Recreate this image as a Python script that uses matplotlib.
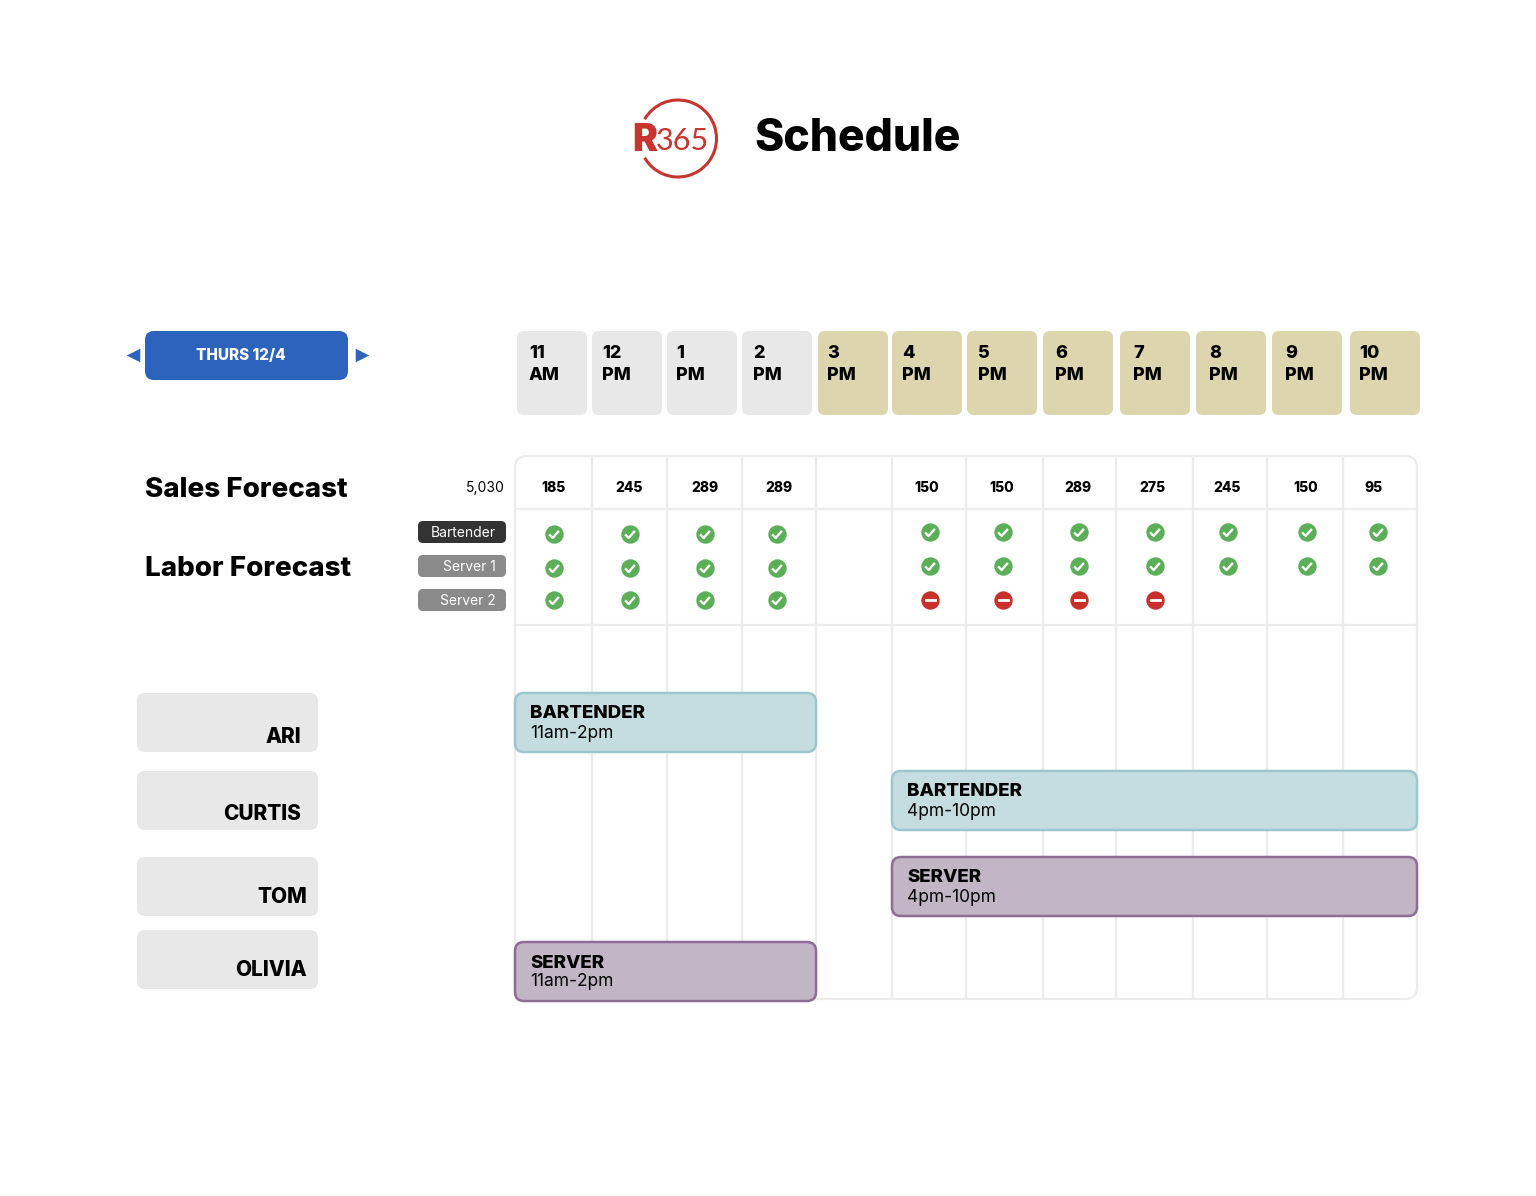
# Schedule chart

import matplotlib
matplotlib.use("Agg")
import matplotlib.pyplot as plt
from matplotlib.patches import FancyBboxPatch, Arc
from matplotlib.path import Path

# Data

hours = ["11\nAM", "12\nPM", "1\nPM", "2\nPM", "3\nPM", "4\nPM",
         "5\nPM", "6\nPM", "7\nPM", "8\nPM", "9\nPM", "10\nPM"]
peakHours = [False, False, False, False, True, True,
             True, True, True, True, True, True]
sales = ["185", "245", "289", "289", "", "150", "150", "289", "275", "245", "150", "95"]
salesTotal = "5,030"
roles = ["Bartender", "Server 1", "Server 2"]

# 1 = covered, -1 = not needed, 0 = nothing shown
bartender = [1, 1, 1, 1, 0, 1, 1, 1, 1, 1, 1, 1]
server1 = [1, 1, 1, 1, 0, 1, 1, 1, 1, 1, 1, 1]
server2 = [1, 1, 1, 1, 0, -1, -1, -1, -1, 0, 0, 0]
coverage = [bartender, server1, server2]

names = ["ARI", "CURTIS", "TOM", "OLIVIA"]
shiftRoles = ["BARTENDER", "BARTENDER", "SERVER", "SERVER"]
shiftTimes = ["11am-2pm", "4pm-10pm", "4pm-10pm", "11am-2pm"]
shiftStart = [0, 5, 5, 0]
shiftEnd = [4, 12, 12, 4]

# Layout in image pixels

gridLines = [515, 592, 667, 742, 816, 892, 966, 1043, 1116, 1193, 1267, 1343, 1417]
headerLeft = [517, 592, 667, 742, 818, 892, 967, 1043, 1120, 1196, 1272, 1350]
headerTextX = [529, 602, 676, 753, 827, 902, 978, 1055, 1133, 1209, 1285, 1359]
salesX = [554, 629, 705, 779, 853, 927, 1002, 1078, 1152, 1227, 1306, 1374]
iconX = [554, 630, 705, 777, 853, 930, 1003, 1079, 1155, 1228, 1307, 1378]
iconY = [[534, 532], [568, 566], [600, 600]]
roleY = [532, 566, 600]
rowTop = [693, 771, 857, 942]
nameTop = [693, 771, 857, 930]
nameY = [736, 813, 896, 969]
nameRight = [301, 301, 307, 307]

fontName = ["Inter", "DejaVu Sans"]
gridColor = "#ececec"
heavy = 800


def box(ax, x, y, w, h, r, face, edge="none", lw=0, z=2):
    ax.add_patch(FancyBboxPatch((x, y), w, h, boxstyle=f"round,pad=0,rounding_size={r}",
                                facecolor=face, edgecolor=edge, linewidth=lw, zorder=z))


fig = plt.figure(figsize=[15.36, 11.96], dpi=100)
ax = fig.add_axes([0, 0, 1, 1])
ax.set_xlim(0, 1536)
ax.set_ylim(1196, 0)
ax.axis("off")
plt.rcParams["font.family"] = fontName

# Logo and title

ax.add_patch(Arc((678, 138.5), 77, 77, theta1=-150, theta2=150, color="#c8352f", lw=2.2))
ax.text(632, 141, "R", color="#c8352f", fontsize=27, fontweight=900, va="center", ha="left")
ax.text(656, 141, "365", color="#c8352f", fontsize=22, va="center", ha="left", family="Lato")
ax.text(754, 139, "Schedule", color="black", fontsize=32, fontweight=heavy, va="center", ha="left")

# Date selector

box(ax, 145, 331, 203, 49, 9, "#2b63bd")
ax.text(241, 356, "THURS 12/4", color="white", fontsize=11, fontweight=heavy, va="center", ha="center")
ax.scatter([133], [355], marker="<", s=95, color="#2b63bd", linewidths=0)
ax.scatter([362], [355], marker=">", s=95, color="#2b63bd", linewidths=0)

# Hour header

for left, textX, label, peak in zip(headerLeft, headerTextX, hours, peakHours):
    box(ax, left, 331, 70, 84, 7, "#ddd5ad" if peak else "#e8e8e8")
    first, second = label.split("\n")
    ax.text(textX, 353, first, fontsize=13, fontweight=heavy, va="center", ha="left")
    ax.text(textX, 375, second, fontsize=13, fontweight=heavy, va="center", ha="left")

# Grid

box(ax, 515, 456, 902, 543, 12, "none", gridColor, 1.6, 1)
for x in gridLines[1:-1]:
    ax.plot([x, x], [456, 999], color=gridColor, lw=1.6, zorder=1)
for y in [509, 625]:
    ax.plot([515, 1417], [y, y], color=gridColor, lw=1.6, zorder=1)

# Forecast rows

ax.text(145, 490, "Sales Forecast", fontsize=20, fontweight=heavy, va="center", ha="left")
ax.text(145, 569, "Labor Forecast", fontsize=20, fontweight=heavy, va="center", ha="left")
ax.text(505, 488, salesTotal, fontsize=10, va="center", ha="right")
for x, value in zip(salesX, sales):
    ax.text(x, 488, value, fontsize=10, fontweight=heavy, va="center", ha="center")

for i, role in enumerate(roles):
    box(ax, 418, roleY[i] - 11, 88, 22, 5, "#333333" if i == 0 else "#8a8a8a")
    ax.text(496, roleY[i] + 1, role, color="white", fontsize=10, va="center", ha="right")

# Coverage icons

checkMark = Path([(-0.55, -0.05), (-0.15, -0.45), (0.55, 0.35)])
for row, values in enumerate(coverage):
    for col, value in enumerate(values):
        if value == 0:
            continue
        y = iconY[row][0] if col < 4 else iconY[row][1]
        if value > 0:
            ax.scatter(iconX[col], y, s=175, color="#5cae58", linewidths=0, zorder=3)
            ax.scatter(iconX[col], y, s=50, marker=checkMark, facecolor="none",
                       edgecolor="white", linewidths=1.7, zorder=4)
        else:
            ax.scatter(iconX[col], y, s=175, color="#c8302c", linewidths=0, zorder=3)
            ax.plot([iconX[col] - 4.5, iconX[col] + 4.5], [y, y], color="white", lw=2, zorder=4)

# Names and shifts

for i, name in enumerate(names):
    box(ax, 137, nameTop[i], 181, 59, 8, "#e8e8e8")
    ax.text(nameRight[i], nameY[i] + 1, name, fontsize=15, fontweight=heavy, va="center", ha="right")

    isBar = shiftRoles[i] == "BARTENDER"
    x0 = gridLines[shiftStart[i]]
    x1 = gridLines[shiftEnd[i]]
    box(ax, x0, rowTop[i], x1 - x0, 59, 9, "#c5dde0" if isBar else "#c1b5c6",
        "#9cc7cd" if isBar else "#8e6e94", 1.8, 5)
    ax.text(x0 + 15, rowTop[i] + 21, shiftRoles[i], fontsize=13.5, fontweight=heavy, va="center", ha="left", zorder=6)
    ax.text(x0 + 15, rowTop[i] + 40, shiftTimes[i], fontsize=12.5, va="center", ha="left", zorder=6)

fig.savefig("out.png", dpi=100)
